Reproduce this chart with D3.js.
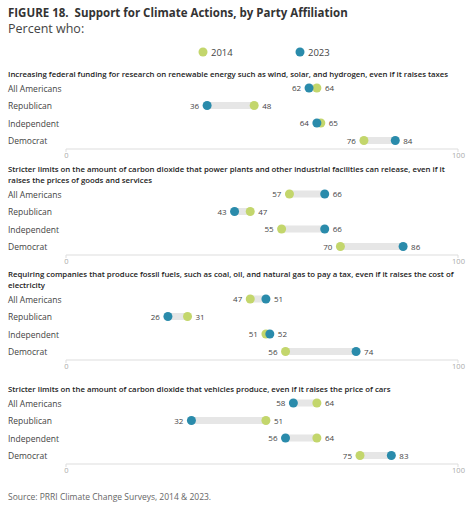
<!DOCTYPE html><html><head><meta charset="utf-8"><script src="https://cdn.jsdelivr.net/npm/d3@7"></script>
<style>body{margin:0;background:#fff}text{font-family:"Open Sans",sans-serif}</style></head><body><svg id="c" width="474" height="513"></svg>
<script>
const groups=["All Americans","Republican","Independent","Democrat"];
const questions=[
 ["Increasing federal funding for research on renewable energy such as wind, solar, and hydrogen, even if it raises taxes"],
 ["Stricter limits on the amount of carbon dioxide that power plants and other industrial facilities can release, even if it","raises the prices of goods and services"],
 ["Requiring companies that produce fossil fuels, such as coal, oil, and natural gas to pay a tax, even if it raises the cost of","electricity"],
 ["Stricter limits on the amount of carbon dioxide that vehicles produce, even if it raises the price of cars"]];
const v2014=[[64,48,65,76],[57,47,55,70],[47,31,51,56],[64,51,64,75]];
const v2023=[[62,36,64,84],[66,43,66,86],[51,26,52,74],[58,32,56,83]];
const axisTicks=[0,100];
const c14="#c3d66c",c23="#2a8bab";
const svg=d3.select("#c");
const x=d3.scaleLinear().domain([0,100]).range([66,458]);
svg.append("text").attr("x",8).attr("y",17).attr("font-size",11.5).attr("font-weight",700).attr("fill","#333").attr("xml:space","preserve").text("FIGURE 18.  Support for Climate Actions, by Party Affiliation");
svg.append("text").attr("x",8).attr("y",33).attr("font-size",12.5).attr("fill","#444").text("Percent who:");
[[203,"2014",c14],[300,"2023",c23]].forEach(([lx,t,col])=>{
 svg.append("circle").attr("cx",lx).attr("cy",52).attr("r",4.5).attr("fill",col);
 svg.append("text").attr("x",lx+8).attr("y",55.5).attr("font-size",9.5).attr("fill","#444").text(t);
});
const tops=[74,169,274,389];
questions.forEach((q,qi)=>{
 const t0=tops[qi];
 q.forEach((line,li)=>svg.append("text").attr("x",8).attr("y",t0+li*10.5+3).attr("font-size",7.8).attr("font-weight",600).attr("fill","#222").text(line));
 const r0=t0+(q.length-1)*11+14;
 const y=d3.scalePoint().domain(groups).range([r0,r0+52.5]);
 const g=svg.append("g");
 groups.forEach((gr,i)=>{
  const a=v2014[qi][i],b=v2023[qi][i],yy=y(gr);
  g.append("text").attr("x",8).attr("y",yy+3.5).attr("font-size",8.5).attr("fill","#444").text(gr);
  g.append("rect").attr("x",x(Math.min(a,b))).attr("y",yy-3.5).attr("width",x(Math.max(a,b))-x(Math.min(a,b))).attr("height",7).attr("fill","#e6e6e6");
  g.append("circle").attr("cx",x(a)).attr("cy",yy).attr("r",4.5).attr("fill",c14);
  g.append("circle").attr("cx",x(b)).attr("cy",yy).attr("r",4.5).attr("fill",c23);
  const lo=Math.min(a,b),hi=Math.max(a,b);
  g.append("text").attr("x",x(lo)-8).attr("y",yy+3).attr("text-anchor","end").attr("font-size",8).attr("fill","#444").text(lo);
  g.append("text").attr("x",x(hi)+8).attr("y",yy+3).attr("font-size",8).attr("fill","#444").text(hi);
 });
 const ay=r0+61;
 const ax=svg.append("g").attr("transform",`translate(0,${ay})`).call(d3.axisBottom(x).tickValues(axisTicks).tickSize(2).tickPadding(2));
 ax.select(".domain").attr("stroke","#ddd").attr("d",`M${x(0)},3V0H${x(100)}V3`);
 ax.selectAll(".tick line").remove();
 ax.selectAll("text").attr("fill","#aaa").attr("font-size",7.5).style("font-family","Open Sans");
});
svg.append("text").attr("x",8).attr("y",500).attr("font-size",8.5).attr("fill","#666").text("Source: PRRI Climate Change Surveys, 2014 & 2023.");
</script></body></html>
